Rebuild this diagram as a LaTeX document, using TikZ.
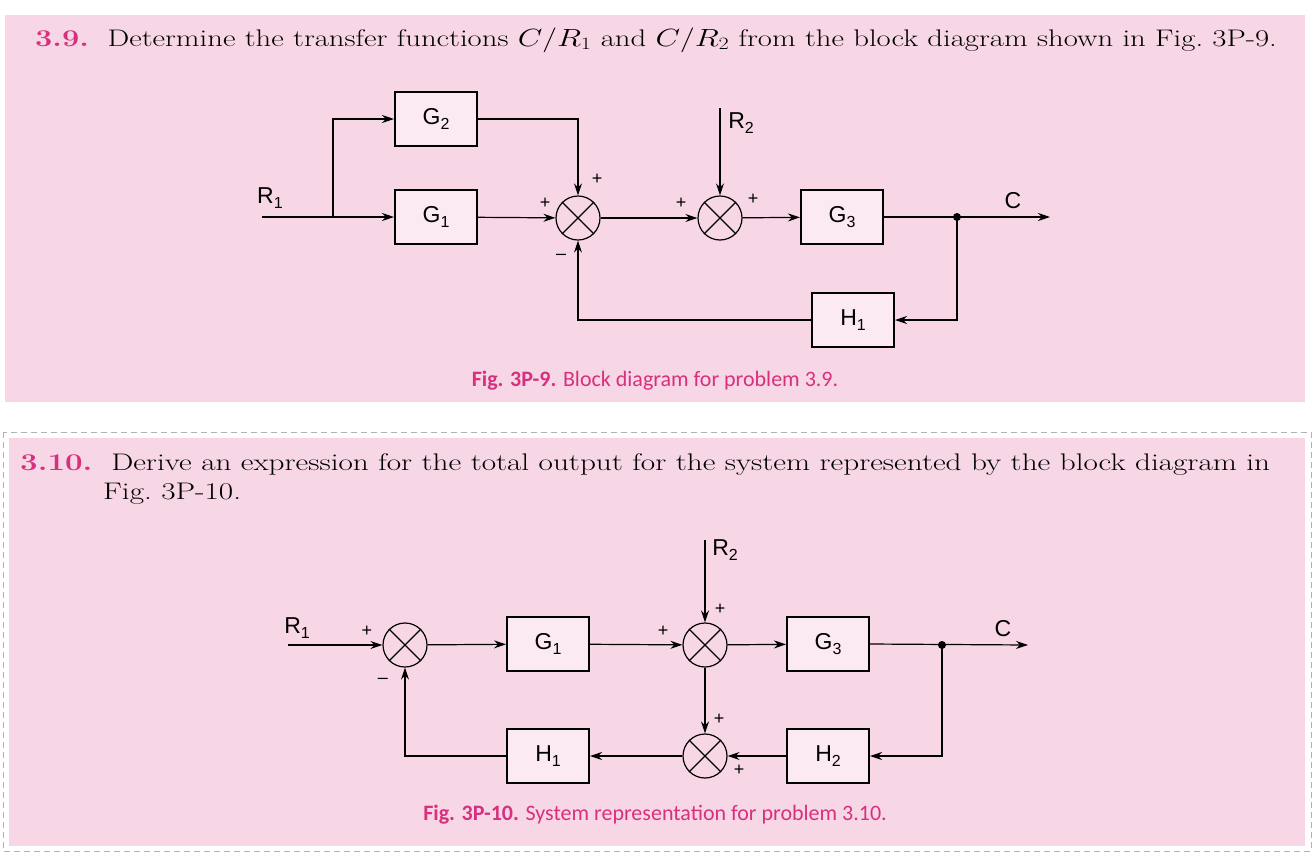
\documentclass[tikz,border=0pt]{standalone}
\usepackage{fontspec}
\usetikzlibrary{arrows.meta}
\newfontfamily\blkfont{Liberation Sans}
\newfontfamily\capfont{Carlito}
\definecolor{bgpink}{HTML}{F7D6E5}
\definecolor{boxpink}{HTML}{FBEAF2}
\definecolor{mag}{HTML}{D8307F}
\newcommand{\sbs}[1]{\raisebox{-5pt}{\fontsize{16}{16}\selectfont #1}}
\begin{document}
\begin{tikzpicture}[x=1pt,y=-1pt,
  blk/.style={draw,line width=2pt,fill=boxpink,minimum width=82pt,minimum height=54pt,font=\blkfont\fontsize{23}{24}\selectfont},
  sum/.style={draw,circle,line width=1.2pt,minimum size=44pt,inner sep=0pt},
  arr/.style={line width=1.2pt,-{Stealth[length=12pt,width=8pt]}},
  ln/.style={line width=1.2pt},
  sg/.style={font=\blkfont\fontsize{18}{18}\selectfont,inner sep=0pt},
  lbl/.style={font=\blkfont\fontsize{23}{24}\selectfont,inner sep=0pt},
  ttl/.style={font=\fontsize{24}{26}\selectfont,anchor=base west,inner sep=0pt},
  figcap/.style={font=\capfont\fontsize{22}{24}\selectfont,text=mag,inner sep=0pt}]
\useasboundingbox (0,0) rectangle (1314,860);
\fill[white] (0,0) rectangle (1314,860);
\fill[bgpink] (5,15) rectangle (1305,402);
\draw[gray!60,line width=1pt,dash pattern=on 6pt off 4pt] (3,432) rectangle (1311,851);
\fill[bgpink] (9,438) rectangle (1305,846);
\newcommand{\xsum}[1]{\draw[line width=1.2pt] (#1.45)--(#1.225) (#1.135)--(#1.315);}
% ---------- 3.9
\node[ttl] (t1) at (35,46) {\scalebox{1.28}[1]{\textcolor{mag}{\textbf{3.9.}}\ \ Determine the transfer functions $C/R_1$ and $C/R_2$ from the block diagram shown in Fig.~3P-9.}};
\node[blk] (g2) at (436,119) {G\sbs{2}};
\node[blk] (g1) at (436,217) {G\sbs{1}};
\node[sum] (s1) at (578,218) {};\xsum{s1}
\node[sum] (s2) at (720,218) {};\xsum{s2}
\node[blk] (g3) at (842,217) {G\sbs{3}};
\node[blk] (h1) at (853,320) {H\sbs{1}};
\coordinate (r1) at (262,217);
\coordinate (b1) at (333,217);
\coordinate (r2) at (720,108);
\coordinate (c) at (1050,217);
\coordinate (d1) at (957,217);
\node[lbl] at (270,198) {R\sbs{1}};
\node[lbl] at (741,123) {R\sbs{2}};
\node[lbl] at (1013,201) {C};
\draw[ln] (r1)--(b1);
\draw[arr] (b1)--(g1);
\draw[arr] (b1)|-(g2);
\draw[arr] (g2.east)-|(s1.north);
\draw[arr] (g1)--(s1);
\draw[arr] (s1)--(s2);
\draw[arr] (r2)--(s2.north);
\draw[arr] (s2)--(g3);
\draw[arr] (g3.east)--(c);
\fill (d1) circle (4pt);
\draw[arr] (d1)|-(h1.east);
\draw[arr] (h1.west)-|(s1.south);
\node[sg] at (597,179) {+};
\node[sg] at (545,203) {+};
\node[sg] at (561,257) {\textendash};
\node[sg] at (681,203) {+};
\node[sg] at (753,199) {+};
\node[figcap] at (655,381) {\textbf{Fig. 3P-9.} Block diagram for problem 3.9.};
% ---------- 3.10
\node[ttl] (t2) at (20,470) {\scalebox{1.3}[1]{\textcolor{mag}{\textbf{3.10.}}\ \ Derive an expression for the total output for the system represented by the block diagram in}};
\node[ttl] (t3) at (103,499) {\scalebox{1.3}[1]{Fig.~3P-10.}};
\node[sum] (sa) at (405,645) {};\xsum{sa}
\node[blk] (bg1) at (548,644) {G\sbs{1}};
\node[sum] (sb) at (705,645) {};\xsum{sb}
\node[blk] (bg3) at (828,644) {G\sbs{3}};
\node[sum] (sc) at (705,756) {};\xsum{sc}
\node[blk] (bh1) at (548,756) {H\sbs{1}};
\node[blk] (bh2) at (828,756) {H\sbs{2}};
\coordinate (br1) at (288,645);
\coordinate (br2) at (705,540);
\coordinate (bc) at (1028,645);
\coordinate (d2) at (942,645);
\node[lbl] at (297,628) {R\sbs{1}};
\node[lbl] at (725,550) {R\sbs{2}};
\node[lbl] at (1003,629) {C};
\draw[arr] (br1)--(sa);
\draw[arr] (sa)--(bg1);
\draw[arr] (bg1)--(sb);
\draw[arr] (br2)--(sb.north);
\draw[arr] (sb)--(bg3);
\draw[arr] (bg3.east)--(bc);
\fill (d2) circle (4pt);
\draw[arr] (d2)|-(bh2.east);
\draw[arr] (bh2)--(sc);
\draw[arr] (sb)--(sc);
\draw[arr] (sc)--(bh1);
\draw[arr] (bh1.west)-|(sa.south);
\node[sg] at (367,631) {+};
\node[sg] at (383,681) {\textendash};
\node[sg] at (663,631) {+};
\node[sg] at (720,609) {+};
\node[sg] at (719,719) {+};
\node[sg] at (739,770) {+};
\node[figcap] at (655,815) {\textbf{Fig. 3P-10.} System representation for problem 3.10.};
\end{tikzpicture}
\end{document}
